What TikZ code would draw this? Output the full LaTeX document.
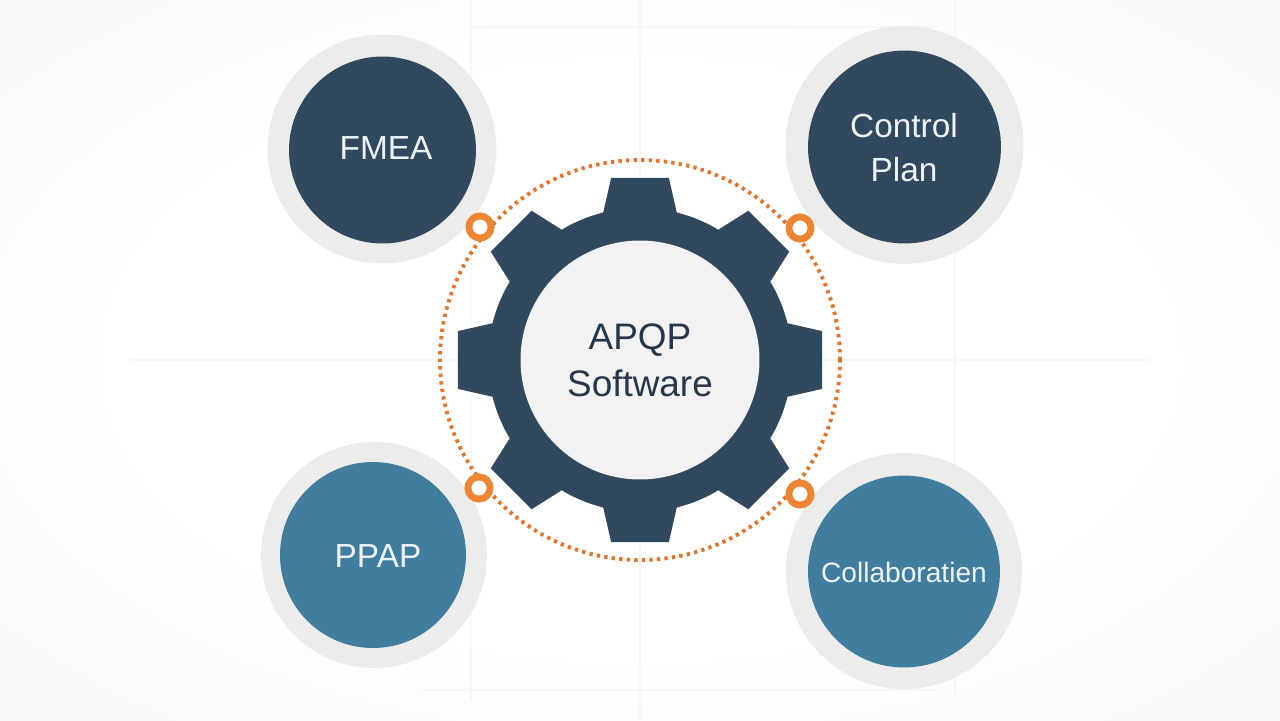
\documentclass[tikz,border=0pt]{standalone}
\usepackage{fontspec}
\setmainfont{Liberation Sans}
\usepackage{tikz}

\definecolor{darkblue}{HTML}{30495F}
\definecolor{tealblue}{HTML}{407D9E}
\definecolor{halogrey}{HTML}{ECECEA}
\definecolor{hubgrey}{HTML}{F2F2F2}
\definecolor{dotorange}{HTML}{E4742C}
\definecolor{ringorange}{HTML}{EE8532}
\definecolor{hubtext}{HTML}{26374A}
\definecolor{circletext}{HTML}{EDF3F6}
\definecolor{gridgrey}{HTML}{F6F7F8}
\definecolor{bgedge}{HTML}{F2F5F8}

\pgfdeclareradialshading{bgglow}{\pgfpoint{0bp}{0bp}}{
  color(0bp)=(white); color(20bp)=(white); color(44bp)=(bgedge); color(100bp)=(bgedge)}

\tikzset{
  bigcircle/.style={circle, inner sep=0pt},
  bigtext/.style={text=circletext, font=\fontsize{19}{25}\selectfont, align=center},
  halo/.style={circle, fill=halogrey, inner sep=0pt},
  gridline/.style={gridgrey, line width=0.6pt},
  linkring/.style={circle, draw=ringorange, fill=white, line width=3.9pt, minimum size=12.6pt, inner sep=0pt}
}

\begin{document}
\begin{tikzpicture}[x=0.02cm, y=0.02cm]
  \useasboundingbox (-640, -360) rectangle (640, 360);
  \shade[shading=bgglow] (-640, -360) rectangle (640, 360);

  % faint grid
  \draw[gridline] (-169, -340) -- (-169, 360);
  \draw[gridline] (0, -360) -- (0, 360);
  \draw[gridline] (315, -340) -- (315, 360);
  \draw[gridline] (-510, 0) -- (510, 0);
  \draw[gridline] (-170, 333) -- (300, 333);
  \draw[gridline] (-220, -330) -- (300, -330);

  % outer circles
  \node[halo, minimum size=4.58cm] at (-258, 211) {};
  \node[halo, minimum size=4.76cm] at (264.5, 215) {};
  \node[halo, minimum size=4.52cm] at (-266, -195) {};
  \node[halo, minimum size=4.72cm] at (264, -211) {};
  \node[bigcircle, fill=darkblue, minimum size=3.74cm] (fmea) at (-257.5, 210) {};
  \node[bigcircle, fill=darkblue, minimum size=3.86cm] (control) at (264.5, 213) {};
  \node[bigcircle, fill=tealblue, minimum size=3.72cm] (ppap) at (-267, -195) {};
  \node[bigcircle, fill=tealblue, minimum size=3.84cm] (collab) at (264, -211.5) {};

  \node[bigtext] (fmeatext) at (-254, 212) {FMEA};
  \node[bigtext] (controltext) at (264, 212) {Control\\Plan};
  \node[bigtext] (ppaptext) at (-262, -196) {PPAP};
  \node[bigtext, font=\fontsize{16}{20}\selectfont] (collabtext) at (264, -212) {Collaboratien};

  % dotted ring
  \draw[dotorange, line width=2.2pt, dash pattern=on 1.9pt off 2.4pt] (0, 0) circle (200);

  % gear
  \fill[darkblue] (-9:184.5)
    \foreach \a in {0, 45, ..., 315} {
      -- (\a-9:184.5) -- (\a+9:184.5) -- (\a+14:152) arc (\a+14:\a+31:152)
    } -- cycle;
  \node[circle, fill=hubgrey, minimum size=4.78cm, inner sep=0pt, text=hubtext, align=center, font=\fontsize{21}{26.6}\selectfont] (hub) at (0, 0) {APQP\\Software};

  \node[linkring] (ringa) at (-160, 133) {};
  \node[linkring] (ringb) at (160, 132) {};
  \node[linkring] (ringc) at (-161, -128) {};
  \node[linkring] (ringd) at (160, -134) {};
\end{tikzpicture}
\end{document}
